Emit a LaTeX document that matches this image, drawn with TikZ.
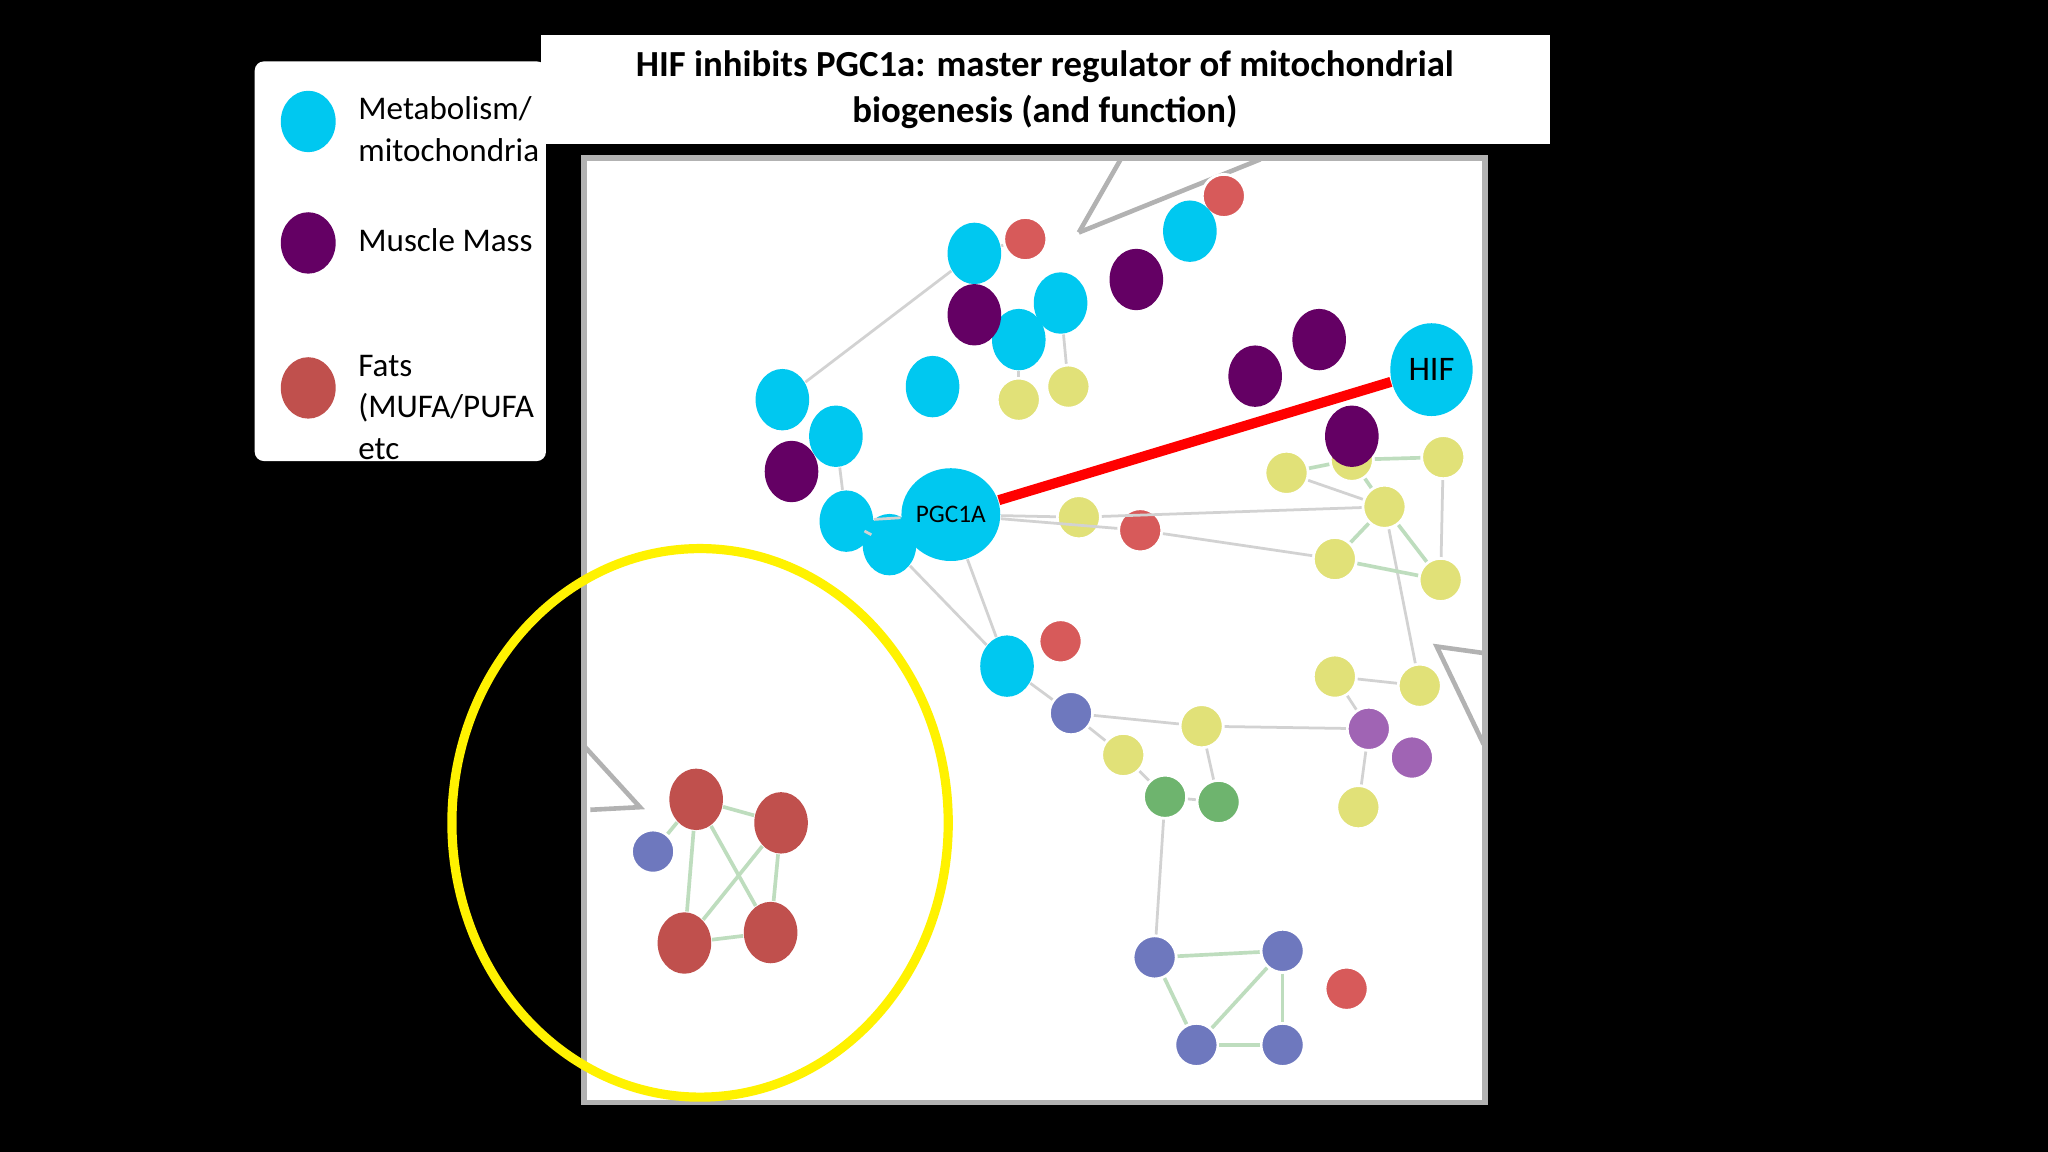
\documentclass[tikz,border=0pt]{standalone}
\usepackage{fontspec}
\setmainfont{Carlito}
\usetikzlibrary{shapes.geometric}
\definecolor{metab}{RGB}{0,200,240}
\definecolor{muscle}{RGB}{100,0,100}
\definecolor{fats}{RGB}{192,80,77}
\definecolor{faintyel}{RGB}{225,225,120}
\definecolor{faintred}{RGB}{215,90,90}
\definecolor{faintblue}{RGB}{110,120,190}
\definecolor{faintgreen}{RGB}{110,180,110}
\definecolor{faintpurp}{RGB}{160,100,180}
\tikzstyle{blob} = [ellipse, minimum width=0.41cm, minimum height=0.47cm, inner sep=0pt]
\tikzstyle{cyan} = [blob, fill=metab]
\tikzstyle{purp} = [blob, fill=muscle]
\tikzstyle{fat} = [blob, fill=fats]
\tikzstyle{big} = [ellipse, fill=metab, minimum width=0.63cm, minimum height=0.71cm, inner sep=0pt]
\tikzstyle{dot} = [circle, minimum size=0.33cm, inner sep=0pt, draw=white, line width=0.6pt]
\tikzstyle{edge} = [draw, gray!35, line width=0.6pt]
\tikzstyle{gedge} = [draw, faintgreen!45, line width=0.8pt]
\tikzstyle{legend} = [anchor=west, align=left, font=\fontsize{7.2}{9}\selectfont]
\begin{document}
\begin{tikzpicture}[x=0.01cm, y=-0.01cm]
    % Background and boxes
    \fill[black] (0,0) rectangle (1568,882);
    \useasboundingbox (0,0) rectangle (1568,882);
    \fill[white, rounded corners=2pt] (195,47) rectangle (418,353);
    \fill[white] (414,27) rectangle (1187,110);
    \node[font=\bfseries\fontsize{8}{10}\selectfont, align=center] (title) at (800,69)
        {HIF inhibits PGC1a: master regulator of mitochondrial\\biogenesis (and function)};
    \fill[white, draw=gray!60, line width=1.2pt] (447,121) rectangle (1137,844);
    % Legend
    \node [cyan, minimum width=0.42cm, minimum height=0.47cm] (lmet) at (236,93) {};
    \node [purp, minimum width=0.42cm, minimum height=0.47cm] (lmus) at (236,186) {};
    \node [fat, minimum width=0.42cm, minimum height=0.47cm] (lfat) at (236,297) {};
    \node [legend] at (262,99) {Metabolism/\\mitochondria};
    \node [legend] at (262,184) {Muscle Mass};
    \node [legend] at (262,312) {Fats\\(MUFA/PUFA\\etc};
    % Callout wedges
    \draw[gray!60, line width=1pt] (826,178) -- (858,122) (826,178) -- (965,122);
    \draw[gray!60, line width=1pt] (448,572) -- (490,618) -- (452,620);
    \draw[gray!60, line width=1pt] (1136,570) -- (1100,495) -- (1136,500);
    % Faint background network
    \foreach \n/\x/\y in {y1/780/306, y2/818/296, y3/826/396, y4/985/362, y5/1035/352,
        y6/1105/350, y7/1060/388, y8/1022/428, y9/1103/444, y10/1022/518, y11/1087/525,
        y12/920/556, y13/860/578, y14/1040/618}
        \node [dot, fill=faintyel] (\n) at (\x,\y) {};
    \foreach \n/\x/\y in {r1/785/183, r2/937/150, r3/873/406, r4/812/491, r5/1031/757}
        \node [dot, fill=faintred] (\n) at (\x,\y) {};
    \foreach \n/\x/\y in {b1/820/546, b2/500/652, b3/884/733, b4/982/728, b5/916/800, b6/982/800}
        \node [dot, fill=faintblue] (\n) at (\x,\y) {};
    \foreach \n/\x/\y in {g1/892/610, g2/933/614}
        \node [dot, fill=faintgreen] (\n) at (\x,\y) {};
    \foreach \n/\x/\y in {p1/1048/558, p2/1081/580}
        \node [dot, fill=faintpurp] (\n) at (\x,\y) {};
    % Main nodes
    \foreach \n/\x/\y in {c1/746/194, c2/812/232, c3/780/260, c4/714/296, c5/911/177,
        c6/599/306, c7/640/334, c8/648/399, c9/681/417, c10/771/510}
        \node [cyan] (\n) at (\x,\y) {};
    \foreach \n/\x/\y in {m1/746/241, m2/870/214, m3/606/361, m4/961/288, m5/1010/260, m6/1035/334}
        \node [purp] (\n) at (\x,\y) {};
    \foreach \n/\x/\y in {f1/533/612, f2/598/630, f3/524/722, f4/590/714}
        \node [fat] (\n) at (\x,\y) {};
    \node [big] (pgc) at (728,394) {\fontsize{5.5}{6}\selectfont PGC1A};
    \node [big] (hif) at (1096,283) {\fontsize{7.5}{8}\selectfont HIF};
    % Faint edges
    \begin{scope}[on background layer/.style={}]
    \foreach \a/\b in {c1/c6, c1/r1, c3/y1, c2/y2, pgc/y3, pgc/r3, pgc/c10, pgc/c8,
        c7/c8, c8/c9, y3/y7, r3/y8, c9/c10, c10/b1, b1/y13, b1/y12, y12/p1, y13/g1,
        g1/g2, y12/g2, g1/b3, y7/y11, y4/y7, y6/y9, y10/y11, y10/p1, p1/y14}
        \path [edge] (\a) -- (\b);
    \foreach \a/\b in {f1/f2, f1/f3, f1/f4, f2/f3, f2/f4, f3/f4, b2/f1, b3/b4, b3/b5,
        b4/b6, b5/b6, b4/b5, y4/y5, y5/y6, y5/y7, y7/y8, y7/y9, y8/y9}
        \path [gedge] (\a) -- (\b);
    \end{scope}
    \foreach \n in {f1,f2,f3,f4,pgc,hif,c8,c9,c10,b1,y1,y2,y3,y4,y5,y6,y7,y8,y9,y10,y11,y12,y13,y14,g1,g2,b2,b3,b4,b5,b6,p1}
        \path (\n);
    % Inhibition and highlight
    \draw [red, line width=2.2pt] (pgc) -- (hif);
    \draw [yellow, line width=2pt] (536,630) ellipse [x radius=190, y radius=210];
\end{tikzpicture}
\end{document}
